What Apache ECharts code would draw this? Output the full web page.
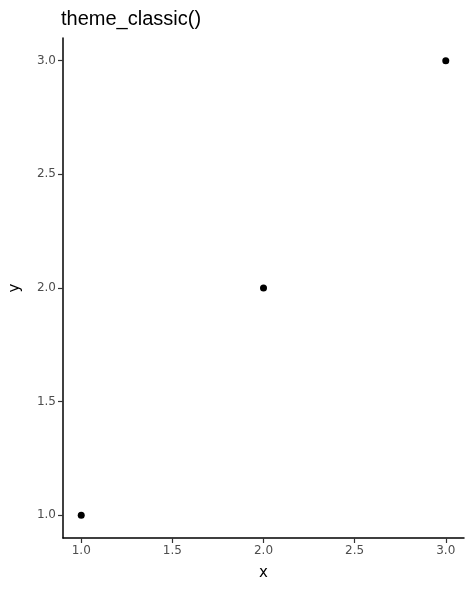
<!DOCTYPE html>
<html>
<head>
<meta charset="utf-8">
<script src="https://cdn.jsdelivr.net/npm/echarts@6/dist/echarts.min.js"></script>
<style>html,body{margin:0;padding:0;background:#fff}#main{width:474px;height:592px}</style>
</head>
<body>
<div id="main"></div>
<script>
var xs = [1, 2, 3];
var ys = [1, 2, 3];
var xTicks = [1.0, 1.5, 2.0, 2.5, 3.0];
var yTicks = [1.0, 1.5, 2.0, 2.5, 3.0];

var chart = echarts.init(document.getElementById('main'));
var axisCommon = function (ticks, name) {
    return {
        type: 'value', min: 0.9, max: 3.1, name: name,
        nameLocation: 'middle',
        nameTextStyle: { color: '#000', fontSize: 15, fontFamily: 'DejaVu Sans' },
        splitLine: { show: false },
        axisLine: { show: true, lineStyle: { color: '#000', width: 1.5 } },
        axisTick: { show: true, customValues: ticks, length: 5, lineStyle: { color: '#333', width: 1.2 } },
        axisLabel: { customValues: ticks, color: '#4d4d4d', fontSize: 12, margin: 7, fontFamily: 'DejaVu Sans',
            formatter: function (v) { return v.toFixed(1); } }
    };
};
var xAx = axisCommon(xTicks, 'x'); xAx.nameGap = 28;
var yAx = axisCommon(yTicks, 'y'); yAx.nameGap = 40;
chart.setOption({
    animation: false,
    title: { text: 'theme_classic()', left: 56, top: 4,
        textStyle: { color: '#000', fontSize: 20, fontWeight: 'normal', fontFamily: 'Liberation Sans' } },
    grid: { left: 60, right: 10, top: 38, bottom: 54 },
    xAxis: xAx,
    yAxis: yAx,
    series: [{
        type: 'scatter', symbolSize: 7, itemStyle: { color: '#000', opacity: 1 },
        data: xs.map(function (x, i) { return [x, ys[i]]; })
    }]
});
</script>
</body>
</html>
